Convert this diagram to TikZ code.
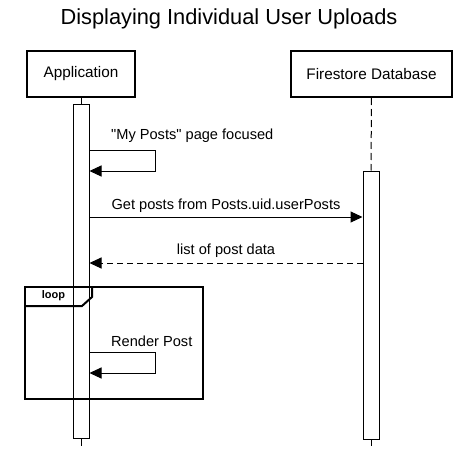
\documentclass[tikz,border=0pt]{standalone}
\usepackage{fontspec}
\setmainfont{Liberation Sans}[Ligatures=TeXOff]
\usetikzlibrary{arrows.meta}
\begin{document}
\begin{tikzpicture}[x=1pt,y=-1pt,
  actor/.style={draw, line width=2pt, minimum height=46pt, inner sep=0pt, font=\fontsize{15.3}{17}\selectfont},
  bar/.style={draw, fill=white, line width=1pt, minimum width=16pt, inner sep=0pt},
  msg/.style={line width=1pt, -{Triangle[length=12pt,width=11pt]}},
  reply/.style={msg, dash pattern=on 6pt off 4pt},
  lbl/.style={font=\fontsize{14.6}{16}\selectfont, inner sep=0pt},
  frame/.style={line width=2pt}]
\useasboundingbox (0,0) rectangle (459,455);
\node[font=\fontsize{21.8}{24}\selectfont] (title) at (229,19) {Displaying Individual User Uploads};
\node[actor, minimum width=108pt] (app) at (81,74) {\raisebox{-1pt}{Application}};
\node[actor, minimum width=161pt] (fs) at (371.5,74) {\raisebox{-1pt}{Firestore Database}};
\coordinate (append) at (81,446);
\coordinate (fsend) at (371,446);
\node[bar, minimum height=334pt] (appbar) at (81,271) {};
\node[bar, minimum height=268pt] (fsbar) at (371,305) {};
\draw[line width=1pt] (app.south) -- (appbar.north);
\draw[line width=1pt] (appbar.south) -- (append);
\draw[line width=1pt, dash pattern=on 7pt off 4pt] (fs.south) -- (fsbar.north);
\draw[line width=1pt] (fsbar.south) -- (fsend);
% self message 1
\coordinate (s1) at (155,150);
\coordinate (s1b) at (155,171);
\draw[msg] (appbar.east |- s1) -- (s1) -- (s1b) -- (appbar.east |- s1b);
\node[lbl, anchor=west] (l1) at (111,136) {"My Posts" page focused};
% message 2
\coordinate (m2) at (0,217);
\draw[msg] (appbar.east |- m2) -- (fsbar.west |- m2);
\node[lbl] (l2) at (226,206) {Get posts from Posts.uid.userPosts};
% message 3
\coordinate (m3) at (0,263);
\draw[reply] (fsbar.west |- m3) -- (appbar.east |- m3);
\node[lbl] (l3) at (226,251) {list of post data};
% loop frame
\node[frame, draw, minimum width=178pt, minimum height=112pt, anchor=north west, inner sep=0pt] (loop) at (24,286) {};
\coordinate (tabr) at (92,286);
\coordinate (tabc) at (92,297);
\coordinate (tabd) at (82,306);
\draw[frame] (loop.west |- tabd) -- (tabd) -- (tabc) -- (tabr);
\node[font=\bfseries\fontsize{11}{13}\selectfont, inner sep=0pt] (looplbl) at (53.5,296) {loop};
% render post
\coordinate (s2) at (155,352);
\coordinate (s2b) at (155,373);
\draw[msg] (appbar.east |- s2) -- (s2) -- (s2b) -- (appbar.east |- s2b);
\node[lbl, anchor=west] (l4) at (111,341) {Render Post};
\end{tikzpicture}
\end{document}
